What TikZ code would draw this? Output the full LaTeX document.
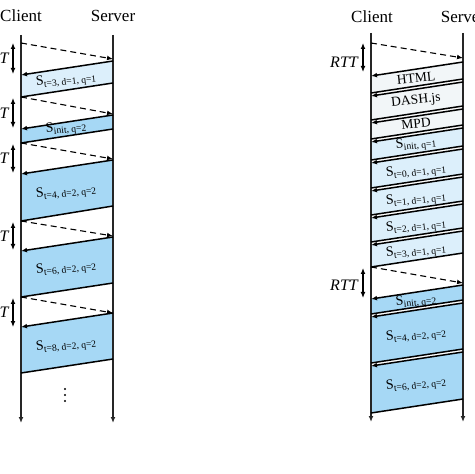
\documentclass[tikz,border=0pt]{standalone}
\usepackage{fontspec}
\setmainfont{Liberation Serif}
\usetikzlibrary{arrows.meta}
\definecolor{segpale}{HTML}{F2F6F8}
\definecolor{seglight}{HTML}{DCEFFB}
\definecolor{segdark}{HTML}{A6D8F5}
\newcommand{\segsub}[1]{S{\fontsize{4.8}{5}\selectfont\raisebox{-1.3pt}{#1}}}
\begin{document}
\begin{tikzpicture}[x=0.5pt, y=-0.5pt,
  lane/.style={line width=0.6pt, black!85, -{Latex[length=3pt,width=2.4pt]}},
  req/.style={line width=0.55pt, dash pattern=on 3pt off 2pt, -{Latex[length=3pt,width=2.4pt]}},
  rsp/.style={line width=0.75pt, -{Latex[length=3pt,width=2.4pt]}},
  edge/.style={line width=0.75pt},
  dur/.style={line width=0.55pt, {Latex[length=3pt,width=2.4pt]}-{Latex[length=3pt,width=2.4pt]}},
  title/.style={font=\fontsize{8.5}{9}\selectfont},
  seg/.style={font=\fontsize{7}{7}\selectfont, rotate=6, inner sep=0pt},
  file/.style={font=\fontsize{6.8}{7}\selectfont, rotate=6, inner sep=0pt},
  tlabel/.style={font=\fontsize{8}{9}\selectfont\itshape, inner sep=0pt}]
\path[use as bounding box] (0,0) rectangle (474,474);
\clip (0,0) rectangle (474,474);
\fill[white] (0,0) rectangle (474,474);

% ---------- left: periodic requests ----------
\node[title] (lcl) at (21,16) {Client}; % client title
\node[title] (lsv) at (113,16) {Server}; % server title
\coordinate (lc0) at (21,35); \coordinate (lc1) at (21,423);
\coordinate (ls0) at (113,35); \coordinate (ls1) at (113,423);

\fill[seglight] (113,61) -- (21,75) -- (21,97) -- (113,83) -- cycle; % t=3 block
\fill[segdark] (113,115) -- (21,129) -- (21,143) -- (113,129) -- cycle; % init block
\fill[segdark] (113,160) -- (21,174) -- (21,221) -- (113,206) -- cycle; % t=4 block
\fill[segdark] (113,237) -- (21,251) -- (21,297) -- (113,283) -- cycle; % t=6 block
\fill[segdark] (113,313) -- (21,327) -- (21,373) -- (113,359) -- cycle; % t=8 block

\draw[lane] (lc0) -- (lc1); % client lifeline
\draw[lane] (ls0) -- (ls1); % server lifeline

\draw[req] (21,43) -- (113,59); % request 1
\draw[rsp] (113,61) -- (21,75); % response 1
\draw[edge] (21,97) -- (113,83); % end 1
\node[seg] (lt3) at (66,80) {\segsub{t=3, d=1, q=1}};

\draw[req] (21,97) -- (113,114); % request 2
\draw[rsp] (113,115) -- (21,129); % response 2
\draw[edge] (21,143) -- (113,129); % end 2
\node[seg] (lin) at (66,128) {\segsub{init, q=2}};

\draw[req] (21,143) -- (113,159); % request 3
\draw[rsp] (113,160) -- (21,174); % response 3
\draw[edge] (21,221) -- (113,206); % end 3
\node[seg] (lt4) at (66,192) {\segsub{t=4, d=2, q=2}};

\draw[req] (21,221) -- (113,236); % request 4
\draw[rsp] (113,237) -- (21,251); % response 4
\draw[edge] (21,297) -- (113,283); % end 4
\node[seg] (lt6) at (66,268) {\segsub{t=6, d=2, q=2}};

\draw[req] (21,297) -- (113,313); % request 5
\draw[rsp] (113,313) -- (21,327); % response 5
\draw[edge] (21,373) -- (113,359); % end 5
\node[seg] (lt8) at (66,345) {\segsub{t=8, d=2, q=2}};

% more segments
\foreach \y in {389,395,401} \fill (65,\y) circle (0.6pt);

\draw[dur] (13,43) -- (13,74); \node[tlabel] (lT1) at (4,58) {T};
\draw[dur] (13,98) -- (13,128); \node[tlabel] (lT2) at (4,113) {T};
\draw[dur] (13,144) -- (13,173); \node[tlabel] (lT3) at (4,158) {T};
\draw[dur] (13,222) -- (13,250); \node[tlabel] (lT4) at (4,236) {T};
\draw[dur] (13,298) -- (13,327); \node[tlabel] (lT5) at (4,312) {T};

% ---------- right: start-up then pipelined ----------
\node[title] (rcl) at (372,17) {Client}; % client title
\node[title] (rsv) at (463,17) {Server}; % server title
\coordinate (rc0) at (371,33); \coordinate (rc1) at (371,422);
\coordinate (rs0) at (463,33); \coordinate (rs1) at (463,422);

\fill[segpale] (463,62) -- (371,76) -- (371,93) -- (463,79) -- cycle; % HTML
\fill[segpale] (463,82) -- (371,96) -- (371,120) -- (463,106) -- cycle; % DASH.js
\fill[segpale] (463,109) -- (371,123) -- (371,139) -- (463,125) -- cycle; % MPD
\fill[seglight] (463,128) -- (371,142) -- (371,160) -- (463,146) -- cycle; % init q=1
\fill[seglight] (463,149) -- (371,163) -- (371,188) -- (463,174) -- cycle; % t=0
\fill[seglight] (463,177) -- (371,191) -- (371,215) -- (463,201) -- cycle; % t=1
\fill[seglight] (463,204) -- (371,218) -- (371,242) -- (463,228) -- cycle; % t=2
\fill[seglight] (463,231) -- (371,245) -- (371,267) -- (463,253) -- cycle; % t=3
\fill[segdark] (463,285) -- (371,299) -- (371,314) -- (463,300) -- cycle; % init q=2
\fill[segdark] (463,303) -- (371,317) -- (371,363) -- (463,349) -- cycle; % t=4
\fill[segdark] (463,352) -- (371,366) -- (371,413) -- (463,399) -- cycle; % t=6

\draw[lane] (rc0) -- (rc1); % client lifeline
\draw[lane] (rs0) -- (rs1); % server lifeline

\draw[req] (371,43) -- (463,58); % first request
\draw[dur] (363,43) -- (363,72); \node[tlabel] (rR1) at (344,62) {RTT};

\draw[rsp] (463,62) -- (371,76); \draw[edge] (371,93) -- (463,79);
\node[file] (html) at (416,78) {HTML};
\draw[rsp] (463,82) -- (371,96); \draw[edge] (371,120) -- (463,106);
\node[file] (dash) at (416,101) {DASH.js};
\draw[rsp] (463,109) -- (371,123); \draw[edge] (371,139) -- (463,125);
\node[file] (mpd) at (416,124) {MPD};
\draw[rsp] (463,128) -- (371,142); \draw[edge] (371,160) -- (463,146);
\node[seg] (rin1) at (416,144) {\segsub{init, q=1}};
\draw[rsp] (463,149) -- (371,163); \draw[edge] (371,188) -- (463,174);
\node[seg] (rt0) at (416,171) {\segsub{t=0, d=1, q=1}};
\draw[rsp] (463,177) -- (371,191); \draw[edge] (371,215) -- (463,201);
\node[seg] (rt1) at (416,199) {\segsub{t=1, d=1, q=1}};
\draw[rsp] (463,204) -- (371,218); \draw[edge] (371,242) -- (463,228);
\node[seg] (rt2) at (416,226) {\segsub{t=2, d=1, q=1}};
\draw[rsp] (463,231) -- (371,245); \draw[edge] (371,267) -- (463,253);
\node[seg] (rt3) at (416,251) {\segsub{t=3, d=1, q=1}};

\draw[req] (371,267) -- (463,283); % switch request
\draw[dur] (363,268) -- (363,298); \node[tlabel] (rR2) at (344,285) {RTT};

\draw[rsp] (463,285) -- (371,299); \draw[edge] (371,314) -- (463,300);
\node[seg] (rin2) at (416,301) {\segsub{init, q=2}};
\draw[rsp] (463,303) -- (371,317); \draw[edge] (371,363) -- (463,349);
\node[seg] (rt4) at (416,335) {\segsub{t=4, d=2, q=2}};
\draw[rsp] (463,352) -- (371,366); \draw[edge] (371,413) -- (463,399);
\node[seg] (rt6) at (416,384) {\segsub{t=6, d=2, q=2}};
\end{tikzpicture}
\end{document}
